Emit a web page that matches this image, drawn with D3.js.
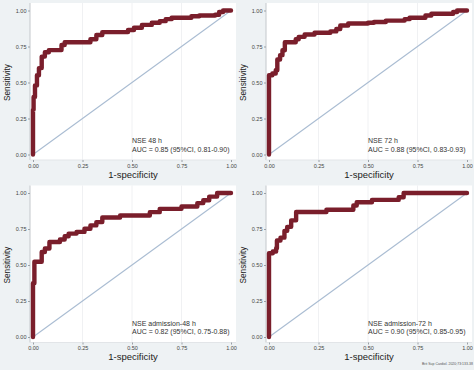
<!DOCTYPE html>
<html>
<head>
<meta charset="utf-8">
<script src="https://cdn.jsdelivr.net/npm/d3@7"></script>
<style>
  body { margin: 0; background: #eef2f4; }
  svg { display: block; font-family: "Liberation Sans", Arial, sans-serif; }
</style>
</head>
<body>
<script>
const width = 474;
const height = 370;

// ROC step vertices: at each fpr the tpr jumps to the listed value
const fpr48 = [0, 0, 0.003, 0.01, 0.02, 0.03, 0.044, 0.06, 0.08, 0.144, 0.16, 0.29, 0.32, 0.35, 0.48, 0.51, 0.55, 0.60, 0.64, 0.67, 0.70, 0.80, 0.84, 0.92, 0.94, 0.96, 1];
const tpr48 = [0, 0.31, 0.40, 0.48, 0.55, 0.60, 0.68, 0.71, 0.725, 0.76, 0.78, 0.80, 0.83, 0.85, 0.865, 0.88, 0.90, 0.915, 0.926, 0.94, 0.95, 0.96, 0.965, 0.97, 0.99, 1, 1];

const fpr72 = [0, 0, 0.017, 0.034, 0.042, 0.056, 0.068, 0.08, 0.135, 0.15, 0.18, 0.23, 0.31, 0.34, 0.36, 0.40, 0.50, 0.53, 0.59, 0.685, 0.71, 0.79, 0.82, 0.93, 0.95, 1];
const tpr72 = [0, 0.55, 0.5625, 0.585, 0.66, 0.69, 0.724, 0.78, 0.80, 0.817, 0.833, 0.845, 0.855, 0.872, 0.896, 0.91, 0.915, 0.92, 0.93, 0.94, 0.95, 0.965, 0.977, 0.99, 1, 1];

const fprA48 = [0, 0, 0.007, 0.044, 0.06, 0.083, 0.136, 0.16, 0.18, 0.22, 0.26, 0.29, 0.32, 0.35, 0.44, 0.59, 0.64, 0.75, 0.83, 0.86, 0.89, 0.93, 1];
const tprA48 = [0, 0.374, 0.523, 0.59, 0.615, 0.66, 0.677, 0.70, 0.718, 0.73, 0.752, 0.775, 0.798, 0.83, 0.844, 0.867, 0.89, 0.906, 0.93, 0.95, 0.975, 1, 1];

const fprA72 = [0, 0, 0.019, 0.036, 0.04, 0.058, 0.078, 0.092, 0.112, 0.137, 0.29, 0.426, 0.443, 0.52, 0.655, 0.68, 1];
const tprA72 = [0, 0.582, 0.594, 0.616, 0.67, 0.69, 0.737, 0.765, 0.81, 0.868, 0.884, 0.913, 0.936, 0.952, 0.97, 1, 1];

const titles = ["NSE 48 h", "NSE 72 h", "NSE admission-48 h", "NSE admission-72 h"];
const aucLabels = [
  "AUC = 0.85 (95%CI, 0.81-0.90)",
  "AUC = 0.88 (95%CI, 0.83-0.93)",
  "AUC = 0.82 (95%CI, 0.75-0.88)",
  "AUC = 0.90 (95%CI, 0.85-0.95)"
];
const ticks = [0, 0.25, 0.5, 0.75, 1];

const panels = [
  { fpr: fpr48, tpr: tpr48, ox: 0, oy: 0 },
  { fpr: fpr72, tpr: tpr72, ox: 236, oy: 0 },
  { fpr: fprA48, tpr: tprA48, ox: 0, oy: 182.5 },
  { fpr: fprA72, tpr: tprA72, ox: 236, oy: 182.5 }
];

const x = d3.scaleLinear().domain([0, 1]).range([33, 231]);
const y = d3.scaleLinear().domain([0, 1]).range([154.5, 10.5]);

const svg = d3.select('body').append('svg')
  .attr('width', width)
  .attr('height', height);

svg.append('rect')
  .attr('width', width).attr('height', height)
  .attr('fill', '#eef2f4');

panels.forEach((p, i) => {
  const g = svg.append('g').attr('transform', `translate(${p.ox}, ${p.oy})`);

  // white plot region
  g.append('rect')
    .attr('x', 30).attr('y', 3)
    .attr('width', 206).attr('height', 157)
    .attr('fill', '#fff');

  // faint vertical grid
  g.selectAll('.grid')
    .data([0.25, 0.5, 0.75])
    .join('line')
      .attr('x1', d => x(d)).attr('x2', d => x(d))
      .attr('y1', 3).attr('y2', 160)
      .attr('stroke', '#eceef0')
      .attr('stroke-width', 0.8);

  // axes
  g.append('g')
    .attr('transform', 'translate(30, 0)')
    .call(d3.axisLeft(y).tickValues(ticks).tickFormat(d3.format('.2f')).tickSize(2).tickPadding(1.5))
    .call(a => a.select('.domain').attr('stroke', '#c4c8cc').attr('d', 'M0,3V160'))
    .call(a => a.selectAll('.tick line').attr('stroke', '#9aa0a6'))
    .call(a => a.selectAll('text').attr('font-size', '5.5px').attr('fill', '#444').attr('font-family', null));

  g.append('g')
    .attr('transform', 'translate(0, 160)')
    .call(d3.axisBottom(x).tickValues(ticks).tickFormat(d3.format('.2f')).tickSize(2).tickPadding(2))
    .call(a => a.select('.domain').attr('stroke', '#e2e5e8').attr('d', 'M30,0H236'))
    .call(a => a.selectAll('.tick line').attr('stroke', '#9aa0a6'))
    .call(a => a.selectAll('text').attr('font-size', '5.5px').attr('fill', '#444').attr('font-family', null));

  // axis titles
  g.append('text')
    .attr('x', 133).attr('y', 177.5)
    .attr('text-anchor', 'middle')
    .attr('font-size', '9.5px')
    .attr('fill', '#222')
    .text('1-specificity');

  g.append('text')
    .attr('transform', `translate(9.5, ${y(0.5)}) rotate(-90)`)
    .attr('text-anchor', 'middle')
    .attr('font-size', '8.2px')
    .attr('fill', '#222')
    .text('Sensitivity');

  // reference diagonal
  g.append('line')
    .attr('x1', x(0)).attr('y1', y(0))
    .attr('x2', x(1)).attr('y2', y(1))
    .attr('stroke', '#a9bcd2')
    .attr('stroke-width', 1.1);

  // ROC curve
  const pts = p.fpr.map((f, j) => [f, p.tpr[j]]);
  g.append('path')
    .datum(pts)
    .attr('fill', 'none')
    .attr('stroke', '#7a1e2b')
    .attr('stroke-width', 4.4)
    .attr('stroke-linejoin', 'round')
    .attr('stroke-linecap', 'round')
    .attr('d', d3.line().x(d => x(d[0])).y(d => y(d[1])).curve(d3.curveStepAfter));

  // annotation
  g.append('text')
    .attr('x', x(0.5)).attr('y', 143.2)
    .attr('font-size', '7px')
    .attr('fill', '#333')
    .text(titles[i]);

  g.append('text')
    .attr('x', x(0.5)).attr('y', 151.8)
    .attr('font-size', '7px')
    .attr('fill', '#333')
    .text(aucLabels[i]);
});

// footer
svg.append('text')
  .attr('x', 473).attr('y', 365)
  .attr('text-anchor', 'end')
  .attr('font-size', '3.5px')
  .attr('fill', '#555')
  .text('Brit Sup Cardiol. 2020;73:133-38');
</script>
</body>
</html>
